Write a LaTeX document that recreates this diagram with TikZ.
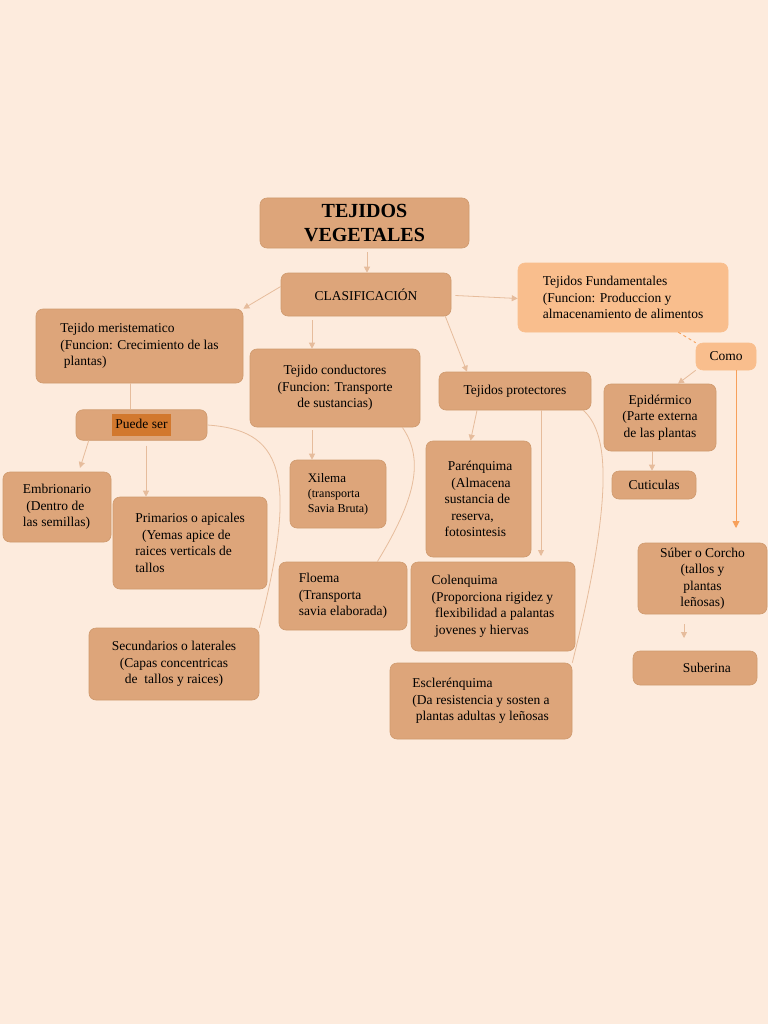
\documentclass[tikz,border=0pt]{standalone}
\usepackage{fontspec}
\setmainfont{Liberation Serif}
\usetikzlibrary{arrows.meta}
\definecolor{bg}{HTML}{FDEBDD}
\definecolor{boxc}{HTML}{DDA57A}
\definecolor{boxd}{HTML}{CF9A6E}
\definecolor{light}{HTML}{F9BE8D}
\definecolor{lnc}{HTML}{E6BC9C}
\definecolor{hl}{HTML}{D2782E}
\definecolor{org}{HTML}{F7A05A}
\tikzset{
 box/.style={draw=boxd, fill=boxc, rounded corners=7pt, line width=0.6pt, inner sep=4pt, font=\fontsize{13.5}{16.5}\selectfont},
 lbox/.style={box, fill=light, draw=light},
 con/.style={draw=lnc, line width=0.8pt, -{Triangle[width=6pt,length=6pt]}},
 pl/.style={draw=lnc, line width=0.8pt},
}
\begin{document}
\begin{tikzpicture}[x=1pt,y=-1pt]
\fill[bg] (0,0) rectangle (768,1024);
\useasboundingbox (0,0) rectangle (768,1024);
\newcommand\bx[6][box]{\node[#1, minimum width=#4, minimum height=#5, align=left] (#2) at (#3) {#6};}
\node[box, minimum width=209, minimum height=50, align=center, font=\fontsize{20}{24}\selectfont\bfseries] (tv) at (364.5,223) {TEJIDOS\\VEGETALES};
\bx{cl}{366,294.5}{170}{43}{CLASIFICACIÓN}
\node[lbox, minimum width=210, minimum height=69, align=left] (fu) at (623,297.5) {Tejidos Fundamentales\\(Funcion: Produccion y\\almacenamiento de alimentos};
\node[lbox, minimum width=60, minimum height=27] (co) at (726,356.5) {Como};
\bx{me}{139.5,346}{207}{74}{Tejido meristematico\\(Funcion: Crecimiento de las\\\ plantas)}
\node[box, minimum width=170, minimum height=78, align=center] (cd) at (335,388) {Tejido conductores\\(Funcion: Transporte\\de sustancias)};
\bx{pr}{515,391}{152}{38}{Tejidos protectores}
\node[box, minimum width=112, minimum height=67, align=center] (ep) at (660,417.5) {Epidérmico\\(Parte externa\\de las plantas};
\node[box, minimum width=131, minimum height=30] (ps) at (141.5,425) {\colorbox{hl}{\strut Puede ser}};
\bx{cu}{654,485}{84}{28}{Cuticulas}
\bx{em}{57,507}{108}{70}{Embrionario\\\ (Dentro de\\las semillas)}
\bx{pa}{190,543}{154}{92}{Primarios o apicales\\\ \ (Yemas apice de\\raices verticals de\\tallos}
\node[box, minimum width=96, minimum height=68, align=left, font=\fontsize{13}{15}\selectfont] (xi) at (338,494) {Xilema\\{\fontsize{12}{15}\selectfont(transporta}\\{\fontsize{12}{15}\selectfont Savia Bruta)}};
\bx{pq}{478.5,499}{105}{116}{\ Parénquima\\\ \ (Almacena\\sustancia de\\\ \ reserva,\\fotosintesis}
\node[box, minimum width=129, minimum height=71, align=center] (su) at (702.5,578.5) {Súber o Corcho\\(tallos y\\plantas\\leñosas)};
\bx{fl}{343,596}{128}{68}{Floema\\(Transporta\\savia elaborada)}
\bx{cq}{493,606.5}{164}{89}{Colenquima\\(Proporciona rigidez y\\\ flexibilidad a palantas\\\ jovenes y hiervas}
\node[box, minimum width=170, minimum height=72, align=center] (se) at (174,664) {Secundarios o laterales\\(Capas concentricas\\de\ \ tallos y raices)};
\bx{sb}{695,668}{124}{34}{\ \ \ \ \ \ \ Suberina}
\bx{es}{481,701}{182}{76}{Esclerénquima\\(Da resistencia y sosten a\\\ plantas adultas y leñosas}
% connectors
\draw[con] (tv.south -| 367,0) ++(0,4) -- (cl.north -| 367,0);
\draw[con] (cl.west) ++(0,-8) -- (me.north east);
\draw[con] (cl.south -| 312,0) ++(0,4) -- (cd.north -| 312,0);
\draw[con] (cl.south east) ++(-6,0) -- ([xshift=-48pt]pr.north);
\draw[con] (cl.east) ++(4,1) -- ([yshift=-1pt]fu.west);
\draw[org, dashed, line width=0.9pt] ([xshift=-50pt]fu.south east) -- (co.north west);
\draw[con] (co.south west) -- ([xshift=18pt]ep.north);
\draw[draw=org, line width=0.9pt, -{Triangle[width=7pt,length=7pt]}] (co.south -| 736,0) -- (736,528);
\draw[con] (ep.south -| 652,0) -- (cu.north -| 652,0);
\draw[con] (pr.south -| 477,0) -- ([xshift=-8pt]pq.north);
\draw[con] (pr.south -| 541,0) -- (541,556);
\draw[pl] ([xshift=-8pt]pr.south east) .. controls (605,430) and (618,480) .. (es.north east);
\draw[pl] (me.south -| 130,0) -- (ps.north -| 130,0);
\draw[con] ([xshift=-3pt]ps.south west) ++(16,0) -- (80,468);
\draw[con] (ps.south -| 146,0) ++(0,5) -- (pa.north -| 146,0);
\draw[pl] (ps.east) .. controls (280,430) and (300,470) .. (se.north east);
\draw[con] (cd.south -| 312,0) ++(0,3) -- (xi.north -| 312,0);
\draw[pl] ([xshift=-18pt]cd.south east) .. controls (425,460) and (415,500) .. ([xshift=-30pt]fl.north east);
\draw[con] (su.south -| 684,0) ++(0,10) -- (684,638);
\end{tikzpicture}
\end{document}
